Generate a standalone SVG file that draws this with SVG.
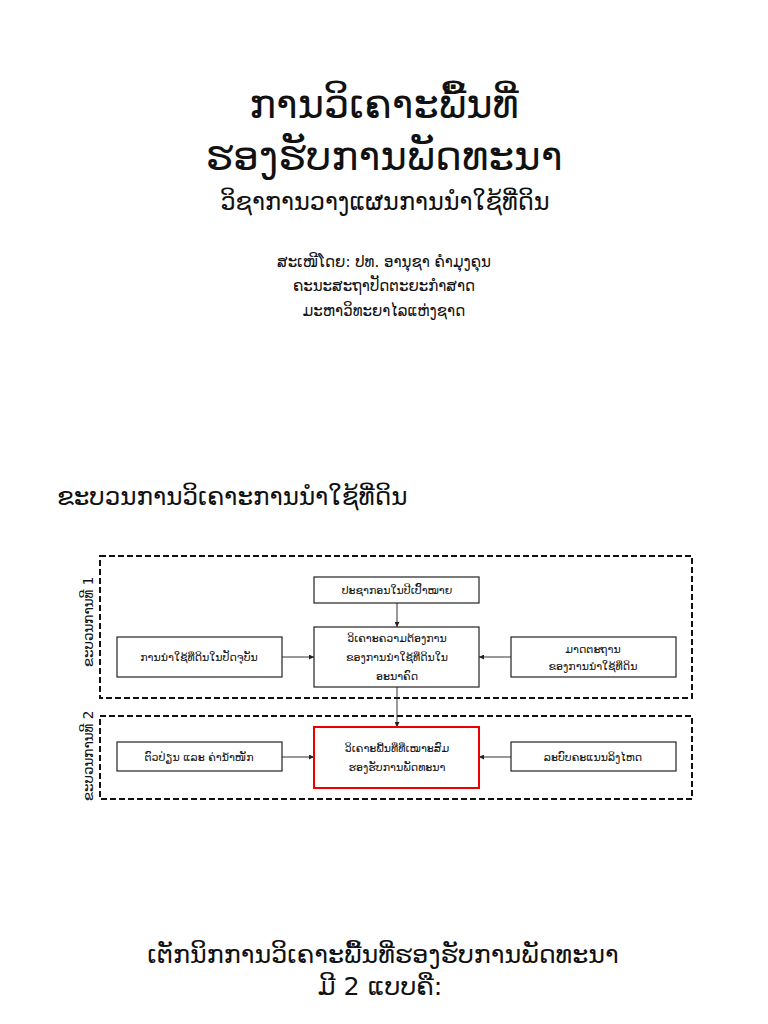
<svg xmlns="http://www.w3.org/2000/svg" width="768" height="1024" viewBox="0 0 768 1024">
<defs>
<style>
text{font-family:"DejaVu Sans","Noto Sans",sans-serif;fill:#111;text-anchor:middle}
.node{fill:#fff;stroke:#222;stroke-width:1.2}
.red{fill:#fff;stroke:#e00;stroke-width:2}
.dash{fill:none;stroke:#111;stroke-width:2;stroke-dasharray:6,3}
.lbl{font-size:11px}
.side{font-size:13.5px}
.con{stroke:#333;stroke-width:1;fill:none;marker-end:url(#ah)}
</style>
<marker id="ah" viewBox="0 0 10 10" refX="10" refY="5" markerWidth="5" markerHeight="5" orient="auto"><path d="M0,0L10,5L0,10z" fill="#222"/></marker>
</defs>
<rect width="768" height="1024" fill="#fff"/>
<g id="title">
<text x="384" y="118" font-size="40">ການວິເຄາະພື້ນທີ່</text>
<text x="384" y="170" font-size="40.5">ຮອງຮັບການພັດທະນາ</text>
<text x="385" y="210" font-size="24">ວິຊາການວາງແຜນການນຳໃຊ້ທີ່ດິນ</text>
</g>
<g id="presenter">
<text x="384" y="267" font-size="15">ສະເໜີໂດຍ: ປທ. ອານຸຊາ ຄຳມຸງຄຸນ</text>
<text x="384" y="291" font-size="15">ຄະນະສະຖາປັດຕະຍະກຳສາດ</text>
<text x="384" y="316" font-size="15">ມະຫາວິທະຍາໄລແຫ່ງຊາດ</text>
</g>
<g id="heading">
<text x="57" y="505" font-size="24.6" style="text-anchor:start">ຂະບວນການວິເຄາະການນຳໃຊ້ທີ່ດິນ</text>
</g>
<g id="stage1">
<rect class="dash" x="100" y="556" width="592" height="142"/>
<text class="side" transform="translate(93,622) rotate(-90)">ຂະບວນການທີ 1</text>
</g>
<g id="stage2">
<rect class="dash" x="100" y="716" width="592" height="83"/>
<text class="side" transform="translate(93,756) rotate(-90)">ຂະບວນການທີ 2</text>
</g>
<g id="connectors">
<line class="con" x1="397" y1="603" x2="397" y2="627"/>
<line class="con" x1="282" y1="657" x2="314" y2="657"/>
<line class="con" x1="511" y1="657" x2="479" y2="657"/>
<line class="con" x1="397" y1="687" x2="397" y2="727"/>
<line class="con" x1="282" y1="757" x2="314" y2="757"/>
<line class="con" x1="511" y1="757" x2="479" y2="757"/>
</g>
<g id="n-population">
<rect class="node" x="314" y="577" width="165" height="26"/>
<text class="lbl" x="397" y="594">ປະຊາກອນໃນປີເປົ້າໝາຍ</text>
</g>
<g id="n-demand">
<rect class="node" x="314" y="627" width="165" height="60"/>
<text class="lbl" x="397" y="642">ວິເຄາະຄວາມຕ້ອງການ</text>
<text class="lbl" x="397" y="661">ຂອງການນຳໃຊ້ທີ່ດິນໃນ</text>
<text class="lbl" x="397" y="680">ອະນາຄົດ</text>
</g>
<g id="n-current">
<rect class="node" x="117" y="637" width="165" height="40"/>
<text class="lbl" x="199" y="661">ການນຳໃຊ້ທີ່ດິນໃນປັດຈຸບັນ</text>
</g>
<g id="n-standard">
<rect class="node" x="511" y="637" width="165" height="40"/>
<text class="lbl" x="593" y="653">ມາດຕະຖານ</text>
<text class="lbl" x="593" y="670">ຂອງການນຳໃຊ້ທີ່ດິນ</text>
</g>
<g id="n-variables">
<rect class="node" x="117" y="742" width="165" height="29"/>
<text class="lbl" x="199" y="761">ຕົວປ່ຽນ ແລະ ຄ່ານ້ຳໜັກ</text>
</g>
<g id="n-suitable">
<rect class="red" x="314" y="727" width="165" height="61"/>
<text class="lbl" x="397" y="752">ວິເຄາະພື້ນທີ່ທີ່ເໝາະສົມ</text>
<text class="lbl" x="397" y="771">ຮອງຮັບການພັດທະນາ</text>
</g>
<g id="n-scoring">
<rect class="node" x="511" y="742" width="165" height="29"/>
<text class="lbl" x="593" y="761">ລະບົບຄະແນນລິງໄຫດ</text>
</g>
<g id="footer">
<text x="383" y="963" font-size="25.4">ເຕັກນິກການວິເຄາະພື້ນທີ່ຮອງຮັບການພັດທະນາ</text>
<text x="380" y="995" font-size="25.4">ມີ 2 ແບບຄື:</text>
</g>
</svg>
